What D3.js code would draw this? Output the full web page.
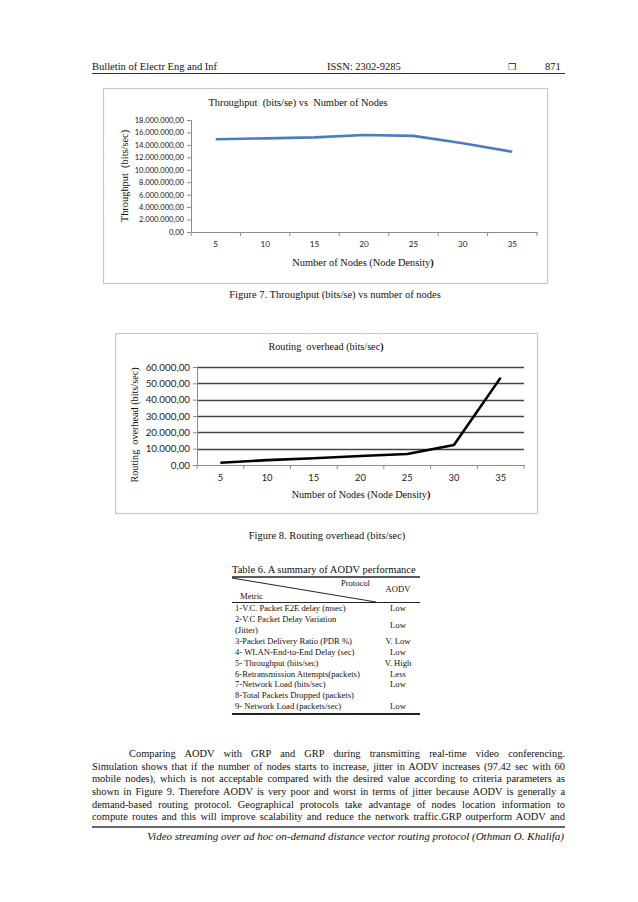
<!DOCTYPE html>
<html>
<head>
<meta charset="utf-8">
<script src="https://cdn.jsdelivr.net/npm/d3@7"></script>
<style>
  body { margin: 0; background: #fff; }
  #page { position: relative; width: 638px; height: 902px; overflow: hidden; }
  svg { position: absolute; left: 0; top: 0; }
  .serif { font-family: "Liberation Serif", "Times New Roman", serif; }
  .sans { font-family: Lato, "Open Sans", sans-serif; }
  .para { position: absolute; left: 92px; width: 473px; font-family: "Liberation Serif", serif;
          font-size: 10.4px; color: #111; }
  .para div { height: 12.7px; line-height: 12.7px; text-align: justify; text-align-last: justify; white-space: nowrap; }
</style>
</head>
<body>
<div id="page"></div>
<script>
// chart data
const nodes = [5, 10, 15, 20, 25, 30, 35];
const throughput = [14900000, 15050000, 15200000, 15600000, 15450000, 14250000, 12900000];
const overhead = [1400, 3000, 4100, 5500, 6700, 12200, 53500];
const throughputMax = 18000000;
const overheadMax = 60000;

// table data
const tableMetrics = [
  ["1-V.C. Packet  E2E delay (msec)"],
  ["2-V.C  Packet  Delay Variation", "(Jitter)"],
  ["3-Packet Delivery Ratio (PDR %)"],
  ["4- WLAN-End-to-End Delay (sec)"],
  ["5-  Throughput  (bits/sec)"],
  ["6-Retransmission Attempts(packets)"],
  ["7-Network Load (bits/sec)"],
  ["8-Total Packets Dropped (packets)"],
  ["9- Network Load (packets/sec)"]
];
const tableAodv = ["Low", "Low", "V. Low", "Low", "V. High", "Less", "Low", "", "Low"];

const paragraph = [
  "Comparing AODV with GRP and GRP during transmitting real-time video conferencing.",
  "Simulation shows that if the number of nodes starts to increase, jitter in AODV increases (97.42 sec with 60",
  "mobile nodes), which is not acceptable compared with the desired value according to criteria parameters as",
  "shown in Figure 9. Therefore AODV is very poor and worst in terms of jitter because AODV is generally a",
  "demand-based routing protocol. Geographical protocols take advantage of nodes location information to",
  "compute routes and this will improve scalability and reduce the network traffic.GRP outperform AODV and"
];

const page = d3.select("#page");
const svg = page.append("svg").attr("width", 638).attr("height", 902);

const fmt = d3.formatLocale({decimal: ",", thousands: ".", grouping: [3], currency: ["", ""]}).format(",.2f");

// running header
const hdr = svg.append("g").attr("class", "serif").attr("font-size", 10.5).attr("fill", "#111");
hdr.append("text").attr("x", 92).attr("y", 70).text("Bulletin of Electr Eng and Inf");
hdr.append("text").attr("x", 327).attr("y", 70).text("ISSN: 2302-9285");
hdr.append("text").attr("x", 508).attr("y", 70).attr("font-family", "DejaVu Sans").attr("font-size", 9).text("\u2752");
hdr.append("text").attr("x", 545).attr("y", 70).text("871");
svg.append("line").attr("x1", 92).attr("x2", 565).attr("y1", 73.5).attr("y2", 73.5)
  .attr("stroke", "#333").attr("stroke-width", 1);

function drawChart(o) {
  const g = svg.append("g");
  g.append("rect").attr("x", o.box[0] + 0.5).attr("y", o.box[1] + 0.5)
    .attr("width", o.box[2]).attr("height", o.box[3])
    .attr("fill", "#fff").attr("stroke", "#c8c8c8").attr("stroke-width", 1.2);

  const x = d3.scaleBand().domain(nodes).range([o.left, o.right]).padding(0);
  const y = d3.scaleLinear().domain([0, o.max]).range([o.bottom, o.top]);
  const bw = x.bandwidth();

  // gridlines
  if (o.grid) {
    g.append("g").selectAll("line").data(y.ticks(o.nticks).filter(d => d > 0)).join("line")
      .attr("x1", o.left).attr("x2", o.right)
      .attr("y1", d => Math.round(y(d)) + 0.5).attr("y2", d => Math.round(y(d)) + 0.5)
      .attr("stroke", "#444").attr("stroke-width", 1.4);
  }

  // y axis
  const ya = g.append("g").attr("transform", `translate(${o.left},0)`)
    .call(d3.axisLeft(y).ticks(o.nticks).tickFormat(fmt).tickSize(4).tickPadding(3));
  ya.select(".domain").attr("stroke", "#8c8c8c");
  ya.selectAll(".tick line").attr("stroke", "#8c8c8c");
  ya.selectAll("text").attr("class", "sans").attr("font-size", o.yfs).attr("fill", "#222");

  // x axis: labels centred in bands, ticks on band edges
  const xa = g.append("g").attr("transform", `translate(0,${o.bottom})`)
    .call(d3.axisBottom(x).tickSize(0).tickPadding(o.xpad));
  xa.select(".domain").attr("stroke", "#8c8c8c");
  xa.selectAll("text").attr("class", "sans").attr("font-size", o.xfs).attr("fill", "#222");
  xa.append("g").selectAll("line").data(nodes.concat(["end"])).join("line")
    .attr("x1", d => d === "end" ? o.right : x(d)).attr("x2", d => d === "end" ? o.right : x(d))
    .attr("y1", 0).attr("y2", 4).attr("stroke", "#8c8c8c");

  const line = d3.line().x((d, i) => x(nodes[i]) + bw / 2).y(d => y(d));
  g.append("path").datum(o.values).attr("d", line)
    .attr("fill", "none").attr("stroke", o.color).attr("stroke-width", 2.6)
    .attr("stroke-linejoin", "round");

  // titles
  const t = g.append("text").attr("class", "serif").attr("font-size", o.tfs).attr("fill", "#111")
    .attr("x", o.titleX).attr("y", o.titleY).attr("text-anchor", "middle").style("white-space", "pre");
  t.append("tspan").text(o.title);
  if (o.titleBold) t.append("tspan").attr("font-weight", "bold").text(")");

  const xt = g.append("text").attr("class", "serif").attr("font-size", o.tfs).attr("fill", "#111")
    .attr("x", o.xtX).attr("y", o.xtY).attr("text-anchor", "middle");
  xt.append("tspan").text("Number of Nodes (Node Density");
  xt.append("tspan").attr("font-weight", "bold").text(")");

  g.append("text").attr("class", "serif").attr("font-size", o.tfs).attr("fill", "#111")
    .attr("transform", `translate(${o.ytX},${o.ytY}) rotate(-90)`).attr("text-anchor", "middle")
    .style("white-space", "pre").text(o.ytitle);
}

drawChart({
  box: [103, 88, 444, 195], left: 191, right: 537, top: 120, bottom: 232,
  max: throughputMax, nticks: 9, values: throughput, color: "#4a7dbd", grid: false,
  yfs: 7.6, xfs: 8.2, xpad: 9, tfs: 10.4,
  title: "Throughput  (bits/se) vs  Number of Nodes", titleBold: false, titleX: 298, titleY: 106,
  xtX: 363, xtY: 266, ytX: 128, ytY: 176, ytitle: "Throughput  (bits/sec)"
});

drawChart({
  box: [115, 333, 422, 180], left: 197, right: 524, top: 367, bottom: 465,
  max: overheadMax, nticks: 6, values: overhead, color: "#000", grid: true,
  yfs: 9.8, xfs: 9.4, xpad: 9, tfs: 10.2,
  title: "Routing  overhead (bits/sec", titleBold: true, titleX: 326, titleY: 350,
  xtX: 361, xtY: 498, ytX: 138, ytY: 425, ytitle: "Routing  overhead (bits/sec)"
});

// captions
const cap = svg.append("g").attr("class", "serif").attr("font-size", 10.5).attr("fill", "#111")
  .attr("text-anchor", "middle");
cap.append("text").attr("x", 335).attr("y", 298).text("Figure 7. Throughput (bits/se) vs number of nodes");
cap.append("text").attr("x", 327).attr("y", 539).text("Figure 8. Routing overhead (bits/sec)");

// table
const tb = svg.append("g").attr("class", "serif").attr("fill", "#111");
const tL = 232, tR = 420, colC = 398;
tb.append("text").attr("x", tL).attr("y", 573).attr("font-size", 10.5).text("Table 6. A summary of AODV performance");
tb.append("line").attr("x1", tL).attr("x2", tR).attr("y1", 577).attr("y2", 577).attr("stroke", "#222").attr("stroke-width", 1.4);
tb.append("line").attr("x1", tL).attr("x2", 376).attr("y1", 578).attr("y2", 602).attr("stroke", "#222").attr("stroke-width", 1);
tb.append("line").attr("x1", tL).attr("x2", tR).attr("y1", 602.5).attr("y2", 602.5).attr("stroke", "#222").attr("stroke-width", 1);
tb.append("text").attr("x", 370).attr("y", 586).attr("font-size", 8.6).attr("text-anchor", "end").text("Protocol");
tb.append("text").attr("x", colC).attr("y", 592).attr("font-size", 8.6).attr("text-anchor", "middle").text("AODV");
tb.append("text").attr("x", 240).attr("y", 599).attr("font-size", 8.6).text("Metric");

let yy = 611;
tableMetrics.forEach((lines, i) => {
  lines.forEach((s, j) => {
    tb.append("text").attr("x", 235).attr("y", yy + j * 11.5).attr("font-size", 8.6).text(s);
  });
  const mid = yy + (lines.length - 1) * 11.5 / 2;
  tb.append("text").attr("x", colC).attr("y", mid).attr("font-size", 8.6)
    .attr("text-anchor", "middle").text(tableAodv[i]);
  yy += lines.length * 11.5 - (lines.length > 1 ? 0.5 : 0) - 0.6;
});
tb.append("line").attr("x1", tL).attr("x2", tR).attr("y1", 714).attr("y2", 714).attr("stroke", "#222").attr("stroke-width", 2);

// body text
const para = page.append("div").attr("class", "para").style("top", "748px");
para.selectAll("div").data(paragraph).join("div")
  .style("text-indent", (d, i) => i === 0 ? "37px" : "0px")
  .text(d => d);

// footer
svg.append("line").attr("x1", 92).attr("x2", 565).attr("y1", 827).attr("y2", 827)
  .attr("stroke", "#333").attr("stroke-width", 1.4);
svg.append("text").attr("class", "serif").attr("font-size", 11).attr("font-style", "italic")
  .attr("fill", "#111").attr("x", 564).attr("y", 840).attr("text-anchor", "end")
  .text("Video streaming over ad hoc on-demand distance vector routing protocol (Othman O. Khalifa)");
</script>
</body>
</html>
